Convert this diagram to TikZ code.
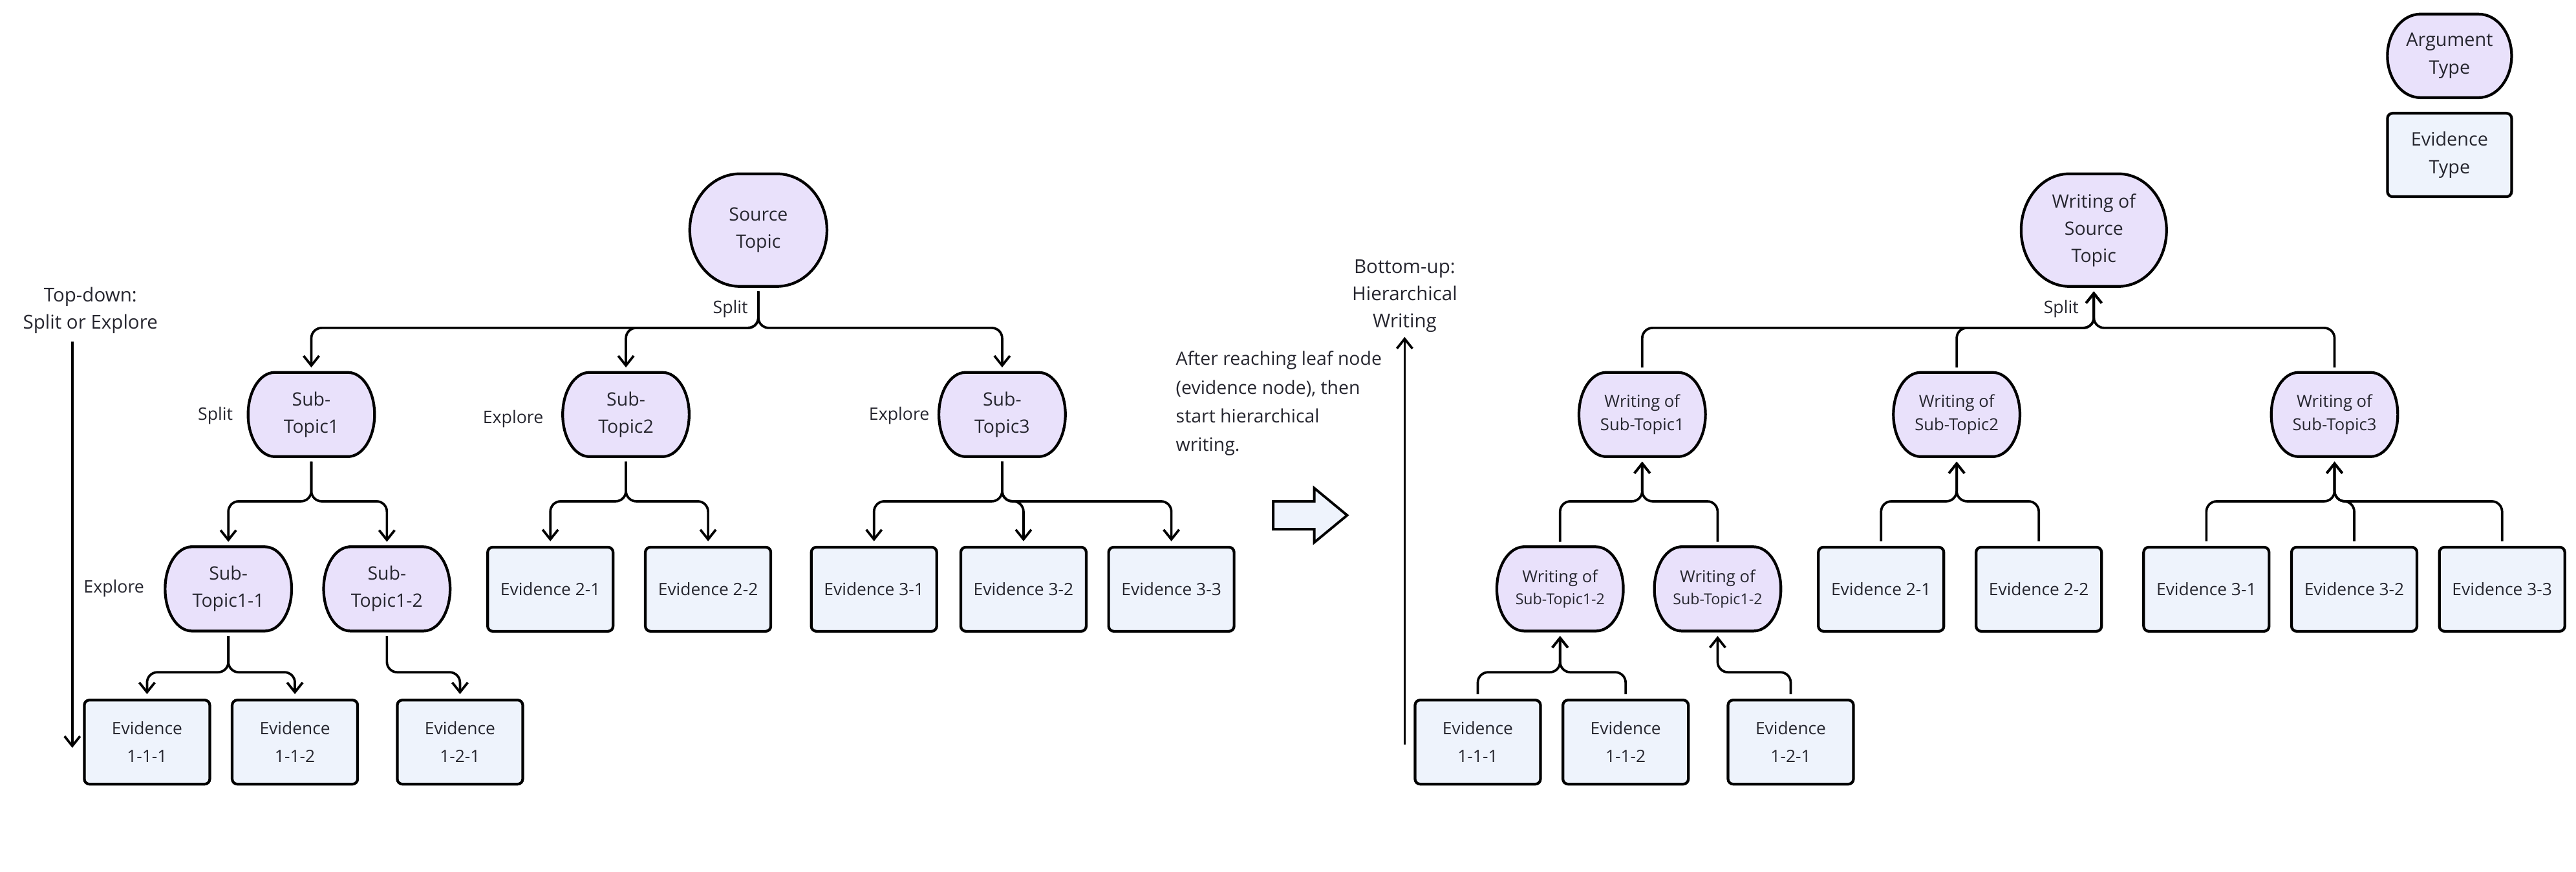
\documentclass[tikz,border=0pt]{standalone}
\usepackage{fontspec}
\setmainfont{Open Sans}
\usetikzlibrary{arrows.meta,calc}
\definecolor{argfill}{HTML}{E9E1FB}
\definecolor{evfill}{HTML}{EEF3FC}
\definecolor{txt}{HTML}{26262F}
\tikzset{
 argshape/.style={draw=black, fill=argfill, line width=1.2pt},
 argtext/.style={text=txt, align=center, inner sep=0pt, font=\fontsize{8.1}{12}\selectfont},
 wsub/.style={font=\fontsize{7.3}{10.4}\selectfont},
 wsubsub/.style={font=\fontsize{7.3}{9.9}\selectfont},
 evbox/.style={draw=black, fill=evfill, line width=1.2pt, rounded corners=0.8mm, minimum width=1.94cm, minimum height=1.30cm, inner sep=0pt, align=center, text=txt, font=\fontsize{7.5}{12.2}\selectfont},
 lbl/.style={text=txt, font=\fontsize{7.6}{10}\selectfont, inner sep=0pt},
 side/.style={text=txt, align=center, font=\fontsize{8.4}{12}\selectfont, inner sep=0pt},
 note/.style={text=txt, align=left, font=\fontsize{8.1}{12.6}\selectfont, inner sep=0pt},
 conn/.style={line width=1.05pt, rounded corners=1.6mm, -{Straight Barb[length=1.5mm,width=2.4mm]}, shorten >=2pt},
 connb/.style={conn, shorten <=2pt},
 blockarr/.style={draw=black, fill=evfill, line width=1.1pt, line join=miter},
}
% name, x, y, w, h, flat fraction, extra options, text
\newcommand\argnode[8]{%
  \pgfmathsetmacro\afw{0.5*#6*#4}%
  \pgfmathsetmacro\ahh{0.5*#5}%
  \pgfmathsetmacro\arx{0.5*(1-#6)*#4*0.025408}%
  \pgfmathsetmacro\ary{0.5*#5*0.025408}%
  \pgfmathsetmacro\anw{#4*0.025408}%
  \pgfmathsetmacro\anh{#5*0.025408}%
  \draw[argshape] (#2-\afw,#3-\ahh) -- (#2+\afw,#3-\ahh)
     arc[start angle=90,end angle=-90,x radius=\arx cm,y radius=\ary cm]
     -- (#2-\afw,#3+\ahh)
     arc[start angle=270,end angle=90,x radius=\arx cm,y radius=\ary cm] -- cycle;
  \node[argtext, minimum width=\anw cm, minimum height=\anh cm, #7] (#1) at (#2,#3) {#8};
}
\begin{document}
\begin{tikzpicture}[x=0.025408cm,y=-0.025408cm]
\useasboundingbox (0,0) rectangle (1568,530.5);

% ---------------- left tree ----------------
\argnode{src}{461.6}{140}{83.5}{68.5}{0.27}{}{Source\\Topic}
\argnode{s1}{189.5}{252.2}{77}{51.2}{0.58}{}{Sub-\\Topic1}
\argnode{s2}{381}{252.2}{77}{51.2}{0.58}{}{Sub-\\Topic2}
\argnode{s3}{610}{252.2}{77}{51.2}{0.58}{}{Sub-\\Topic3}
\argnode{s11}{139}{358.3}{77}{51.2}{0.58}{}{Sub-\\Topic1-1}
\argnode{s12}{235.5}{358.3}{77}{51.2}{0.58}{}{Sub-\\Topic1-2}
\node[evbox] (e21) at (335,358.5) {Evidence 2-1};
\node[evbox] (e22) at (431,358.5) {Evidence 2-2};
\node[evbox] (e31) at (532,358.5) {Evidence 3-1};
\node[evbox] (e32) at (623,358.5) {Evidence 3-2};
\node[evbox] (e33) at (713,358.5) {Evidence 3-3};
\node[evbox] (e111) at (89.5,451.5) {Evidence\\1-1-1};
\node[evbox] (e112) at (179.5,451.5) {Evidence\\1-1-2};
\node[evbox] (e121) at (280,451.5) {Evidence\\1-2-1};

\coordinate (b0) at (461.6,199.5);
\coordinate (b1) at (189.5,305);
\coordinate (b2) at (381,305);
\coordinate (b3) at (610,305);
\coordinate (b11) at (139,409);
\coordinate (b12) at (235.5,409);
\foreach \c in {s1,s2,s3} \draw[connb] (src.south) -- (b0) -| (\c.north);
\foreach \c in {s11,s12} \draw[connb] (s1.south) -- (b1) -| (\c.north);
\foreach \c in {e21,e22} \draw[connb] (s2.south) -- (b2) -| (\c.north);
\foreach \c in {e31,e32,e33} \draw[connb] (s3.south) -- (b3) -| (\c.north);
\foreach \c in {e111,e112} \draw[connb] (s11.south) -- (b11) -| (\c.north);
\draw[connb] (s12.south) -- (b12) -| (e121.north);

\node[lbl, anchor=east] (lsplit0) at (455.5,188) {Split};
\node[lbl, anchor=east] (lsplit1) at (142,253) {Split};
\node[lbl, anchor=east] (lexp2) at (331,255) {Explore};
\node[lbl, anchor=east] (lexp3) at (566,253) {Explore};
\node[lbl, anchor=east] (lexp11) at (88,358) {Explore};

\node[side] (td) at (55,189) {Top-down:\\Split or Explore};
\coordinate (tdA) at (44,208);
\coordinate (tdB) at (44,455);
\draw[conn, shorten >=0pt] (tdA) -- (tdB);

% ---------------- middle ----------------
\node[side] (bu) at (855,180) {Bottom-up:\\Hierarchical\\Writing};
\coordinate (buA) at (855,453);
\coordinate (buB) at (855,205);
\draw[conn, shorten >=0pt] (buA) -- (buB);
\node[note, anchor=west] (nt) at (715.5,245.5) {After reaching leaf node\\(evidence node), then\\start hierarchical\\writing.};
\draw[blockarr] (775,305) -- (800,305) -- (800,297) -- (820,313.5) -- (800,330) -- (800,322) -- (775,322) -- cycle;

% ---------------- right tree ----------------
\argnode{ws}{1274.5}{140}{88.5}{68.5}{0.34}{}{Writing of\\Source\\Topic}
\argnode{w1}{999.6}{252.2}{77}{51.2}{0.57}{wsub}{Writing of\\Sub-Topic1}
\argnode{w2}{1191}{252.2}{77}{51.2}{0.57}{wsub}{Writing of\\Sub-Topic2}
\argnode{w3}{1421}{252.2}{77}{51.2}{0.57}{wsub}{Writing of\\Sub-Topic3}
\argnode{w11}{949.6}{358.3}{77}{51.2}{0.57}{wsubsub}{Writing of\\{\fontsize{6.6}{9.9}\selectfont Sub-Topic1-2}}
\argnode{w12}{1045.5}{358.3}{77}{51.2}{0.57}{wsubsub}{Writing of\\{\fontsize{6.6}{9.9}\selectfont Sub-Topic1-2}}
\node[evbox] (r21) at (1145,358.5) {Evidence 2-1};
\node[evbox] (r22) at (1241,358.5) {Evidence 2-2};
\node[evbox] (r31) at (1343,358.5) {Evidence 3-1};
\node[evbox] (r32) at (1433,358.5) {Evidence 3-2};
\node[evbox] (r33) at (1523,358.5) {Evidence 3-3};
\node[evbox] (r111) at (899.5,451.5) {Evidence\\1-1-1};
\node[evbox] (r112) at (989.5,451.5) {Evidence\\1-1-2};
\node[evbox] (r121) at (1090,451.5) {Evidence\\1-2-1};

\coordinate (rb0) at (1274.5,199.5);
\coordinate (rb1) at (999.6,305);
\coordinate (rb2) at (1191,305);
\coordinate (rb3) at (1421,305);
\coordinate (rb11) at (949.6,409);
\coordinate (rb12) at (1045.5,409);
\foreach \c in {w1,w2,w3} \draw[connb] (\c.north) -- (\c.north |- rb0) -| (ws.south);
\foreach \c in {w11,w12} \draw[connb] (\c.north) -- (\c.north |- rb1) -| (w1.south);
\foreach \c in {r21,r22} \draw[connb] (\c.north) -- (\c.north |- rb2) -| (w2.south);
\foreach \c in {r31,r32,r33} \draw[connb] (\c.north) -- (\c.north |- rb3) -| (w3.south);
\foreach \c in {r111,r112} \draw[connb] (\c.north) -- (\c.north |- rb11) -| (w11.south);
\draw[connb] (r121.north) -- (r121.north |- rb12) -| (w12.south);

\node[lbl, anchor=east] (rsplit0) at (1265.5,188) {Split};

% ---------------- legend ----------------
\argnode{lega}{1491}{34}{75.6}{50.8}{0.47}{font=\fontsize{8.2}{12.3}\selectfont}{Argument\\Type}
\node[evbox, minimum width=1.92cm, minimum height=1.29cm, font=\fontsize{8.2}{12.3}\selectfont] (legb) at (1491,94.3) {Evidence\\Type};
\end{tikzpicture}
\end{document}
